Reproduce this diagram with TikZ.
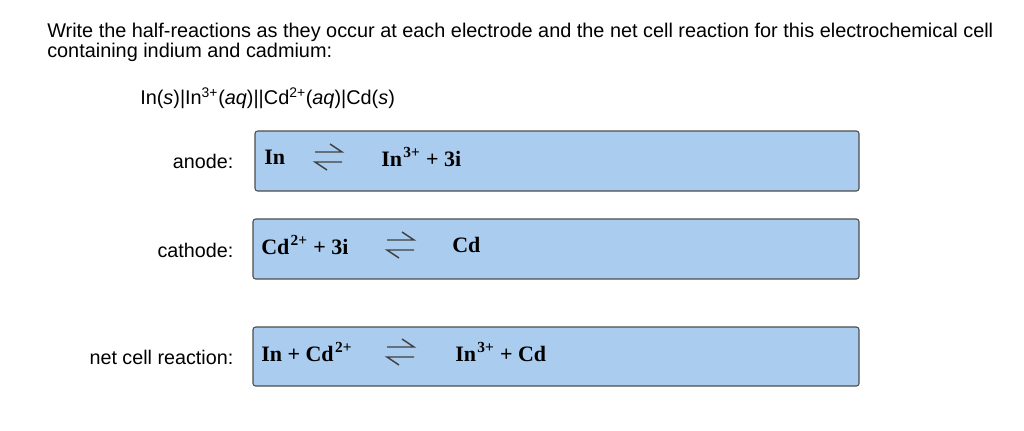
\documentclass[tikz,border=0pt]{standalone}
\usepackage{fontspec}
\setmainfont{Liberation Sans}
\newfontfamily\rxn{Liberation Serif}
\begin{document}
\begin{tikzpicture}[x=0.75pt,y=-0.75pt,
  box/.style={draw=black!70,fill={rgb,255:red,170;green,205;blue,239},rounded corners=2pt,line width=0.8pt},
  lab/.style={anchor=east,font=\fontsize{14.8}{16}\selectfont},
  eq/.style={anchor=west,font=\rxn\bfseries\fontsize{16.5}{18}\selectfont,inner sep=0},
  harp/.style={line width=1.1pt,black!75}]
\useasboundingbox (0,0) rectangle (1024,430);
\node[anchor=north west,align=left,inner sep=0,font=\fontsize{14.9}{13.5}\selectfont] (q) at (47,23)
 {Write the half-reactions as they occur at each electrode and the net cell reaction for this electrochemical cell\\containing indium and cadmium:};
\node[anchor=west,inner sep=0,font=\fontsize{14.9}{16}\selectfont] (cell) at (140,98)
 {In(\textit{s})|In\textsuperscript{3+}(\textit{aq})||Cd\textsuperscript{2+}(\textit{aq})|Cd(\textit{s})};
\draw[box] (255,131) rectangle (859,191);
\draw[box] (253,219) rectangle (859,279);
\draw[box] (253,327) rectangle (859,386);
\node[lab] (la) at (238,161) {anode:};
\node[lab] (lc) at (238,250) {cathode:};
\node[lab] (ln) at (238,357) {net cell reaction:};
\newcommand{\harpoon}[2]{%
 \draw[harp] (#1,#2-5) -- (#1+27,#2-5) -- (#1+15,#2-13);
 \draw[harp] (#1+27,#2+5) -- (#1,#2+5) -- (#1+12,#2+13);}
\newcommand{\sps}[1]{\textsuperscript{\kern1pt#1}}
\node[eq] (a1) at (264,157) {In};
\harpoon{315}{157}
\node[eq] (a2) at (381,157) {In\sps{3+} + 3i};
\node[eq] (c1) at (261,245) {Cd\sps{2+} + 3i};
\harpoon{387}{245}
\node[eq] (c2) at (452,245) {Cd};
\node[eq] (n1) at (261,352) {In + Cd\sps{2+}};
\harpoon{387}{352}
\node[eq] (n2) at (455,352) {In\sps{3+} + Cd};
\end{tikzpicture}
\end{document}
